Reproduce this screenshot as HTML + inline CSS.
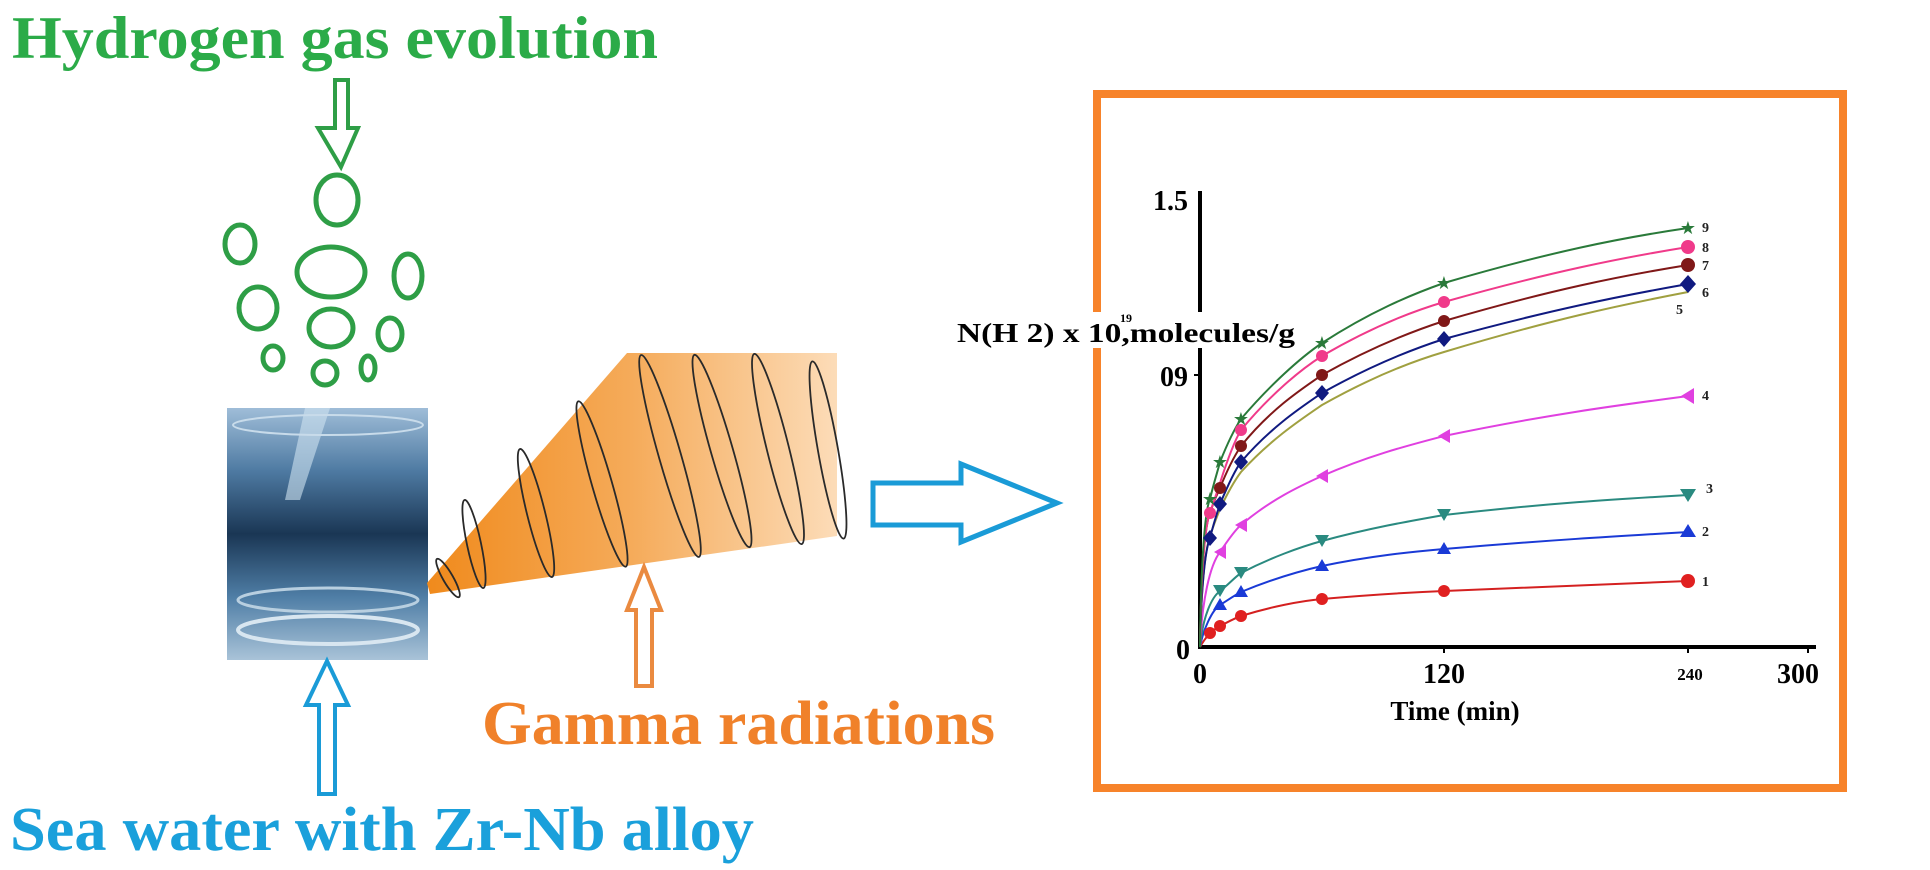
<!DOCTYPE html>
<html><head><meta charset="utf-8"><style>
html,body{margin:0;padding:0;background:#fff;}
svg{display:block;}
</style></head><body>
<svg width="1930" height="870" viewBox="0 0 1930 870" xmlns="http://www.w3.org/2000/svg">
<defs>
<linearGradient id="cone" x1="0" y1="0" x2="1" y2="0">
<stop offset="0" stop-color="#f08a1c"/><stop offset="0.5" stop-color="#f5ab5a"/><stop offset="1" stop-color="#fcdcb8"/>
</linearGradient>
<linearGradient id="glass" x1="0" y1="0" x2="0" y2="1">
<stop offset="0" stop-color="#9fbdd8"/><stop offset="0.25" stop-color="#4e7aa2"/><stop offset="0.5" stop-color="#1a3654"/><stop offset="0.75" stop-color="#4f7ea6"/><stop offset="1" stop-color="#a9c3d8"/>
</linearGradient>
</defs>
<rect width="1930" height="870" fill="#fff"/>

<text x="12" y="58" font-family="'Liberation Serif', serif" font-weight="bold" font-size="60" fill="#2bab48" textLength="646" lengthAdjust="spacingAndGlyphs">Hydrogen gas evolution</text>

<polygon points="335,80 348,80 348,128 358,128 341,167 318,128 335,128" fill="none" stroke="#2e9e46" stroke-width="4"/>
<g fill="none" stroke="#2e9e46" stroke-width="5">
<ellipse cx="337" cy="200" rx="21" ry="25"/>
<ellipse cx="240" cy="244" rx="15" ry="19"/>
<ellipse cx="331" cy="272" rx="34" ry="25"/>
<ellipse cx="408" cy="276" rx="14" ry="22"/>
<ellipse cx="258" cy="308" rx="19" ry="21"/>
<ellipse cx="331" cy="328" rx="22" ry="19"/>
<ellipse cx="390" cy="334" rx="12" ry="16"/>
<ellipse cx="273" cy="358" rx="10" ry="12"/>
<ellipse cx="325" cy="373" rx="12" ry="12"/>
<ellipse cx="368" cy="368" rx="7" ry="12"/>
</g>

<rect x="227" y="408" width="201" height="252" fill="url(#glass)"/>
<polygon points="305,408 330,408 300,500 285,500" fill="#cfe2f0" opacity="0.6"/>
<ellipse cx="328" cy="630" rx="90" ry="14" fill="none" stroke="#d8e6f0" stroke-width="4"/>
<ellipse cx="328" cy="600" rx="90" ry="12" fill="none" stroke="#b8cfe0" stroke-width="3"/>
<ellipse cx="328" cy="425" rx="95" ry="10" fill="none" stroke="#c8dbea" stroke-width="2"/>

<polygon points="427,583 627,353 837,353 837,536 430,594" fill="url(#cone)"/>
<g fill="none" stroke="#2a2a2a" stroke-width="1.8">
<ellipse cx="448" cy="578" rx="22" ry="5" transform="rotate(60 448 578)"/>
<ellipse cx="474" cy="544" rx="45" ry="7" transform="rotate(78 474 544)"/>
<ellipse cx="536" cy="513" rx="66" ry="9" transform="rotate(76 536 513)"/>
<ellipse cx="602" cy="484" rx="86" ry="10" transform="rotate(74 602 484)"/>
<ellipse cx="670" cy="456" rx="105" ry="11" transform="rotate(74 670 456)"/>
<ellipse cx="722" cy="451" rx="100" ry="11" transform="rotate(74 722 451)"/>
<ellipse cx="778" cy="449" rx="98" ry="11" transform="rotate(76 778 449)"/>
<ellipse cx="828" cy="450" rx="90" ry="10" transform="rotate(80 828 450)"/>
</g>

<polygon points="636,686 652,686 652,610 661,610 644,567 627,610 636,610" fill="none" stroke="#ea8a40" stroke-width="4"/>
<text x="482" y="744" font-family="'Liberation Serif', serif" font-weight="bold" font-size="62" fill="#f0812a" textLength="513" lengthAdjust="spacingAndGlyphs">Gamma radiations</text>

<polygon points="319,794 335,794 335,705 348,705 327,661 306,705 319,705" fill="none" stroke="#1a9bd7" stroke-width="4"/>
<text x="10" y="850" font-family="'Liberation Serif', serif" font-weight="bold" font-size="62" fill="#1aa0db" textLength="744" lengthAdjust="spacingAndGlyphs">Sea water with Zr-Nb alloy</text>

<polygon points="873,483 961,483 961,464 1057,503 961,542 961,525 873,525" fill="none" stroke="#1a9bd7" stroke-width="5"/>

<rect x="1097" y="94" width="746" height="694" fill="none" stroke="#f7832a" stroke-width="8"/>

<line x1="1200" y1="191" x2="1200" y2="649" stroke="#000" stroke-width="4"/>
<line x1="1198" y1="647" x2="1816" y2="647" stroke="#000" stroke-width="4"/>
<g stroke="#000" stroke-width="2"><line x1="1444" y1="647" x2="1444" y2="653"/><line x1="1688" y1="647" x2="1688" y2="653"/><line x1="1808" y1="647" x2="1808" y2="653"/><line x1="1194" y1="375" x2="1200" y2="375"/></g>
<g font-family="'Liberation Serif', serif" font-weight="bold" fill="#000">
<text x="1188" y="210" font-size="28" text-anchor="end">1.5</text>
<text x="1188" y="386" font-size="28" text-anchor="end">09</text>
<text x="1190" y="659" font-size="28" text-anchor="end">0</text>
<text x="1200" y="683" font-size="28" text-anchor="middle">0</text>
<text x="1444" y="683" font-size="28" text-anchor="middle">120</text>
<text x="1690" y="680" font-size="17" text-anchor="middle">240</text>
<text x="1798" y="683" font-size="28" text-anchor="middle">300</text>
<text x="1455" y="720" font-size="27" text-anchor="middle">Time (min)</text>
</g>
<rect x="950" y="312" width="345" height="36" fill="#fff"/>
<text x="957" y="342" font-family="'Liberation Serif', serif" font-weight="bold" font-size="27" fill="#000" textLength="338" lengthAdjust="spacingAndGlyphs">N(H  2) x 10,molecules/g</text>
<text x="1120" y="322" font-family="'Liberation Serif', serif" font-weight="bold" font-size="12" fill="#000">19</text>

<g fill="none" stroke-width="2" stroke-linejoin="round">
<path stroke="#d42020" d="M1200,647 C1205,638 1212,630 1220,626 S1235,618 1241,616 C1270,607 1300,601 1322,599 C1380,594 1420,592 1444,591 C1550,587 1620,584 1688,581"/>
<path stroke="#1a3ad6" d="M1200,647 C1203,630 1212,610 1220,605 C1228,600 1235,595 1241,592 C1270,580 1300,571 1322,566 C1370,556 1410,552 1444,549 C1550,540 1620,536 1688,532"/>
<path stroke="#2a8a80" d="M1200,647 C1203,615 1212,597 1220,591 C1228,585 1235,577 1241,573 C1270,558 1300,547 1322,541 C1370,528 1410,521 1444,515 C1550,503 1620,499 1688,495"/>
<path stroke="#e040e0" d="M1200,647 C1202,600 1210,565 1220,552 C1228,540 1235,530 1241,525 C1270,500 1300,486 1322,476 C1370,455 1410,445 1444,436 C1550,414 1620,405 1688,396"/>
<path stroke="#a0a040" d="M1200,647 C1201,590 1205,550 1210,536 C1214,524 1218,514 1220,509 C1228,492 1235,480 1241,472 C1270,440 1300,420 1322,405 C1370,378 1410,362 1444,352 C1550,320 1620,305 1688,292"/>
<path stroke="#101a80" d="M1200,647 C1201,590 1205,550 1210,538 C1214,522 1218,510 1220,504 C1228,485 1235,470 1241,462 C1270,428 1300,408 1322,393 C1370,366 1410,350 1444,339 C1550,310 1620,296 1688,284"/>
<path stroke="#801818" d="M1200,647 C1201,570 1205,525 1210,513 C1214,500 1218,492 1220,488 C1228,468 1235,455 1241,446 C1270,410 1300,390 1322,375 C1370,348 1410,332 1444,321 C1550,290 1620,276 1688,265"/>
<path stroke="#f03a8a" d="M1200,647 C1201,570 1205,525 1210,513 C1214,500 1218,490 1220,483 C1228,458 1235,440 1241,430 C1270,395 1300,370 1322,356 C1370,328 1410,312 1444,302 C1550,272 1620,258 1688,247"/>
<path stroke="#2a7a3a" d="M1200,647 C1201,560 1205,510 1210,499 C1214,482 1218,470 1220,462 C1228,442 1235,428 1241,419 C1270,385 1300,358 1322,343 C1370,312 1410,295 1444,283 C1550,252 1620,238 1688,228"/>
</g>
<g>
<g fill="#e02020"><circle cx="1210" cy="633" r="6"/><circle cx="1220" cy="626" r="6"/><circle cx="1241" cy="616" r="6"/><circle cx="1322" cy="599" r="6"/><circle cx="1444" cy="591" r="6"/><circle cx="1688" cy="581" r="7"/></g>
<g fill="#1a3ad6"><path d="M1220,598 l7,12 h-14z M1241,585 l7,12 h-14z M1322,559 l7,12 h-14z M1444,542 l7,12 h-14z M1688,524 l8,13 h-16z"/></g>
<g fill="#2a8a80"><path d="M1220,597 l7,-12 h-14z M1241,579 l7,-12 h-14z M1322,547 l7,-12 h-14z M1444,521 l7,-12 h-14z M1688,502 l8,-13 h-16z"/></g>
<g fill="#e040e0"><path d="M1214,552 l12,-7 v14z M1235,525 l12,-7 v14z M1316,476 l12,-7 v14z M1438,436 l12,-7 v14z M1681,396 l13,-8 v16z"/></g>
<g fill="#101a80"><path d="M1210,530 l7,8 -7,8 -7,-8z M1220,496 l7,8 -7,8 -7,-8z M1241,454 l7,8 -7,8 -7,-8z M1322,385 l7,8 -7,8 -7,-8z M1444,331 l7,8 -7,8 -7,-8z M1688,275 l8,9 -8,9 -8,-9z"/></g>
<g fill="#801818"><circle cx="1220" cy="488" r="6"/><circle cx="1241" cy="446" r="6"/><circle cx="1322" cy="375" r="6"/><circle cx="1444" cy="321" r="6"/><circle cx="1688" cy="265" r="7"/></g>
<g fill="#f03a8a"><circle cx="1210" cy="513" r="6"/><circle cx="1241" cy="430" r="6"/><circle cx="1322" cy="356" r="6"/><circle cx="1444" cy="302" r="6"/><circle cx="1688" cy="247" r="7"/></g>
<g fill="#2a7a3a" font-size="18" font-family="'DejaVu Sans', sans-serif" text-anchor="middle">
<text x="1210" y="505">★</text><text x="1220" y="468">★</text><text x="1241" y="425">★</text><text x="1322" y="349">★</text><text x="1444" y="289">★</text><text x="1688" y="234">★</text></g>
</g>
<g font-family="'Liberation Serif', serif" font-weight="bold" font-size="14" fill="#222">
<text x="1702" y="586">1</text><text x="1702" y="536">2</text><text x="1706" y="493">3</text><text x="1702" y="400">4</text>
<text x="1676" y="314">5</text><text x="1702" y="297">6</text><text x="1702" y="270">7</text><text x="1702" y="252">8</text><text x="1702" y="232">9</text>
</g>
</svg>
</body></html>
